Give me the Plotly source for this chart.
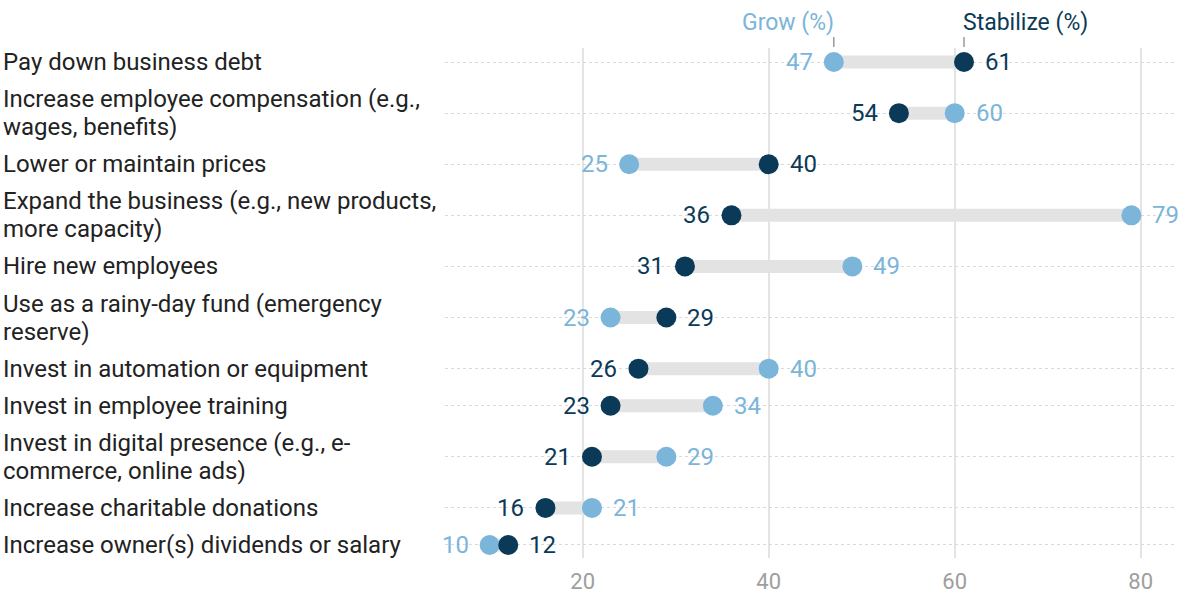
import plotly.graph_objects as go

categories = [
    "Pay down business debt",
    "Increase employee compensation (e.g.,<br>wages, benefits)",
    "Lower or maintain prices",
    "Expand the business (e.g., new products,<br>more capacity)",
    "Hire new employees",
    "Use as a rainy-day fund (emergency<br>reserve)",
    "Invest in automation or equipment",
    "Invest in employee training",
    "Invest in digital presence (e.g., e-<br>commerce, online ads)",
    "Increase charitable donations",
    "Increase owner(s) dividends or salary",
]
grow = [47, 60, 25, 79, 49, 23, 40, 34, 29, 21, 10]
stabilize = [61, 54, 40, 36, 31, 29, 26, 23, 21, 16, 12]
tick_vals = [20, 40, 60, 80]

GROW_C = "#7bb5d9"
STAB_C = "#0b3a58"
FONT = "Roboto"

W, H = 1200, 605
ML, MR, MT, MB = 445, 23, 48, 47
PW = W - ML - MR
PH = H - MT - MB

# row layout: one-line rows are shorter than two-line rows
ROW1, LINE = 37, 28
heights = [ROW1 + LINE * c.count("<br>") for c in categories]
ys = [0.0]
for i in range(1, len(categories)):
    ys.append(ys[-1] + (heights[i - 1] + heights[i]) / 2)
y_top = -14
y_bot = ys[-1] + 13

fig = go.Figure()

# connectors
cx, cy = [], []
for g, s, y in zip(grow, stabilize, ys):
    cx += [g, s, None]
    cy += [y, y, None]
fig.add_trace(go.Scatter(x=cx, y=cy, mode="lines",
                         line=dict(color="#e3e3e3", width=13),
                         hoverinfo="skip", showlegend=False))
fig.add_trace(go.Scatter(x=grow, y=ys, mode="markers", name="Grow (%)",
                         marker=dict(color=GROW_C, size=20),
                         showlegend=False))
fig.add_trace(go.Scatter(x=stabilize, y=ys, mode="markers", name="Stabilize (%)",
                         marker=dict(color=STAB_C, size=20),
                         showlegend=False))

ann = []
for c, y in zip(categories, ys):
    lines = c.split("<br>")
    n = len(lines)
    for k, ln in enumerate(lines):
        ann.append(dict(x=(1 - ML) / PW, xref="paper", y=y, yref="y", text=ln,
                        yshift=-(k - (n - 1) / 2) * LINE,
                        showarrow=False, xanchor="left", yanchor="middle", align="left",
                        font=dict(family=FONT, size=24, color="#222222")))

for g, s, y in zip(grow, stabilize, ys):
    for v, col, other in ((g, GROW_C, s), (s, STAB_C, g)):
        left = v <= other
        ann.append(dict(x=v, y=y, xref="x", yref="y", text=str(v), showarrow=False,
                        xanchor="right" if left else "left", yanchor="middle",
                        xshift=-19 if left else 19,
                        font=dict(family=FONT, size=24, color=col)))

# series headers above the first row
shapes = []
for name, v, other, col in (("Grow (%)", grow[0], stabilize[0], GROW_C),
                            ("Stabilize (%)", stabilize[0], grow[0], STAB_C)):
    left = v <= other
    ann.append(dict(x=v, y=1 + 25 / PH, xref="x", yref="paper", text=name, showarrow=False,
                    xanchor="right" if left else "left", yanchor="middle",
                    xshift=2 if left else -3,
                    font=dict(family=FONT, size=23, color=col)))
    shapes.append(dict(type="line", xref="x", yref="paper", x0=v, x1=v,
                       y0=1 + 1 / PH, y1=1 + 11 / PH,
                       line=dict(color="#999999", width=1.5)))

fig.update_layout(
    width=W, height=H,
    margin=dict(l=ML, r=MR, t=MT, b=MB),
    paper_bgcolor="white", plot_bgcolor="white",
    annotations=ann, shapes=shapes,
    font=dict(family=FONT),
    xaxis=dict(range=[5.2, 83.9], tickvals=tick_vals, showgrid=True,
               gridcolor="#e4e4e4", gridwidth=2, zeroline=False, showline=False,
               ticks="outside", ticklen=4, tickcolor="rgba(0,0,0,0)",
               tickfont=dict(family=FONT, size=22, color="#9e9e9e")),
    yaxis=dict(range=[y_bot, y_top], tickvals=ys, showticklabels=False,
               showgrid=True, gridcolor="#d9d9d9", gridwidth=1, griddash="dot",
               zeroline=False, showline=False),
)

fig.write_html("out.html")
